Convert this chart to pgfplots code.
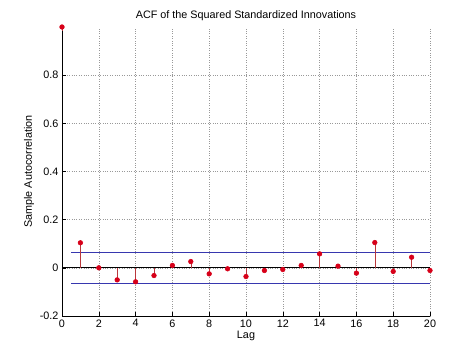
\documentclass[border=0pt]{standalone}
\usepackage{pgfplots}
\pgfplotsset{compat=1.18}
\usepackage{fontspec}
\setmainfont{Liberation Sans}
\definecolor{stemc}{RGB}{185,55,60}
\definecolor{markc}{RGB}{215,0,25}
\definecolor{boundc}{RGB}{55,55,175}
\begin{document}
\begin{tikzpicture}
\useasboundingbox (-62bp,-39bp) rectangle (412bp,316bp);
\begin{axis}[
  at={(0,0)}, anchor=south west,
  scale only axis, width=368bp, height=289bp,
  xmin=0, xmax=20, ymin=-0.2, ymax=1,
  axis x line*=bottom, axis y line*=left,
  axis line style={black, line width=0.8pt},
  xtick={0,2,...,20},
  ytick={-0.2,0,0.2,0.4,0.6,0.8},
  yticklabels={-0.2,0,0.2,0.4,0.6,0.8},
  tick align=inside, major tick length=4bp,
  tick style={black, line width=0.5pt},
  grid=major, grid style={dotted, gray!80, line width=0.6pt},
  /pgf/number format/assume math mode=true,
  ticklabel style={font=\fontsize{10.8bp}{12bp}\selectfont},
  label style={font=\fontsize{10.8bp}{12bp}\selectfont},
  title style={font=\fontsize{10.8bp}{12bp}\selectfont, yshift=-3bp},
  title={ACF of the Squared Standardized Innovations},
  xlabel={Lag}, ylabel={Sample Autocorrelation},
  xlabel style={yshift=3bp},
  ylabel style={yshift=-1bp},
  clip=false,
]
\addplot[draw=black, line width=0.9bp, mark=none, forget plot] coordinates {(0,0) (20,0)};
\addplot[draw=boundc, line width=0.9bp, mark=none, forget plot] coordinates {(0.5,0.065) (20,0.065)};
\addplot[draw=boundc, line width=0.9bp, mark=none, forget plot] coordinates {(0.5,-0.063) (20,-0.063)};
\addplot[ycomb, draw=stemc, line width=0.6pt, mark=*, mark size=2.3bp,
  mark options={fill=markc, draw=markc}] coordinates {
(0,1.0) (1,0.104) (2,0.0) (3,-0.05) (4,-0.058) (5,-0.032) (6,0.01) (7,0.026)
(8,-0.025) (9,-0.004) (10,-0.036) (11,-0.011) (12,-0.007) (13,0.01) (14,0.058)
(15,0.007) (16,-0.022) (17,0.105) (18,-0.015) (19,0.044) (20,-0.011)
};
\draw[black, line width=0.8pt] (axis cs:0,0) -- (axis cs:0,0.985);
\end{axis}
\end{tikzpicture}
\end{document}
